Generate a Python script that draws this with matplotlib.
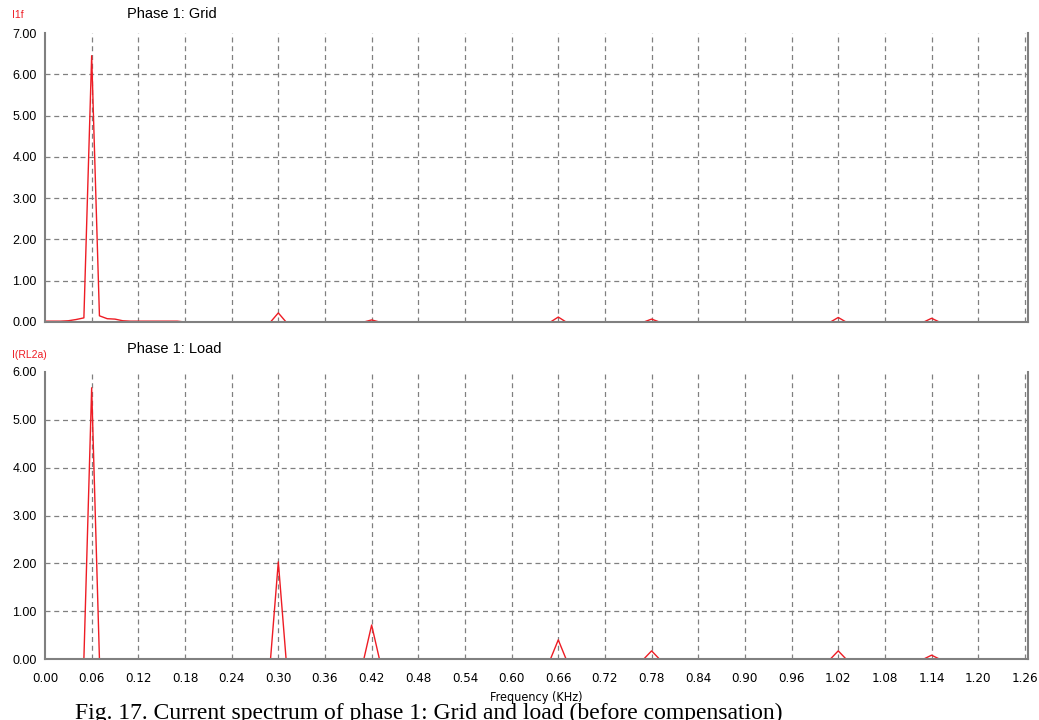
import matplotlib
matplotlib.use("Agg")
import matplotlib.pyplot as plt
from matplotlib import font_manager
import numpy as np

# spectrum points (frequency in kHz, amplitude in A)
grid_freq = [0.00, 0.01, 0.02, 0.03, 0.04, 0.05, 0.06, 0.07, 0.08, 0.09, 0.10,
             0.11, 0.12, 0.13, 0.14, 0.15, 0.16, 0.17, 0.18,
             0.29, 0.30, 0.31, 0.41, 0.42, 0.43, 0.65, 0.66, 0.67,
             0.77, 0.78, 0.79, 1.01, 1.02, 1.03, 1.13, 1.14, 1.15, 1.26]
grid_amp = [0.02, 0.02, 0.02, 0.03, 0.06, 0.10, 6.45, 0.15, 0.08, 0.07, 0.03,
            0.02, 0.02, 0.02, 0.02, 0.02, 0.02, 0.02, 0.00,
            0.00, 0.22, 0.00, 0.00, 0.05, 0.00, 0.00, 0.12, 0.00,
            0.00, 0.07, 0.00, 0.00, 0.11, 0.00, 0.00, 0.09, 0.00, 0.00]

load_freq = [0.00, 0.05, 0.06, 0.07, 0.29, 0.30, 0.31, 0.41, 0.42, 0.43,
             0.65, 0.66, 0.67, 0.77, 0.78, 0.79, 1.01, 1.02, 1.03,
             1.13, 1.14, 1.15, 1.26]
load_amp = [0.00, 0.00, 5.67, 0.00, 0.00, 2.03, 0.00, 0.00, 0.71, 0.00,
            0.00, 0.40, 0.00, 0.00, 0.17, 0.00, 0.00, 0.17, 0.00,
            0.00, 0.08, 0.00, 0.00]

x_ticks = [round(0.06 * i, 2) for i in range(22)]
grid_yticks = [0, 1, 2, 3, 4, 5, 6, 7]
load_yticks = [0, 1, 2, 3, 4, 5, 6]

W, H = 1039, 720
fig = plt.figure(figsize=(W / 100, H / 100), dpi=100)
fig.patch.set_facecolor('white')

# pick a condensed face if one is installed
names = {f.name for f in font_manager.fontManager.ttflist}
if 'Liberation Sans Narrow' in names:
    narrow = dict(family='Liberation Sans Narrow')
else:
    narrow = dict(family='DejaVu Sans', stretch='condensed')
sans = ['Liberation Sans', 'DejaVu Sans']
gcol = '#808080'
red = '#ee1c24'


def make_panel(rect, f, a, yticks):
    ax = fig.add_axes(rect)
    ax.plot(f, a, color=red, linewidth=1.0, zorder=2)
    ax.set_xlim(0, 1.264)
    ax.set_ylim(0, yticks[-1])
    ax.set_xticks(x_ticks)
    ax.set_yticks(yticks)
    ax.set_yticklabels(['%.2f' % v for v in yticks], family=sans, fontsize=9)
    ax.set_xticklabels(['%.2f' % v for v in x_ticks], fontsize=9.5, **narrow)
    ax.tick_params(length=0, pad=6, colors='black')
    ax.tick_params(axis='x', pad=9)
    ax.grid(True, color=gcol, linestyle=(0, (4, 3)), linewidth=0.9)
    ax.yaxis.get_gridlines()[-1].set_visible(False)
    ax.xaxis.get_gridlines()[0].set_visible(False)
    for s in ['left', 'bottom', 'right']:
        ax.spines[s].set_color(gcol)
        ax.spines[s].set_linewidth(1.5)
        ax.spines[s].set_zorder(3)
    ax.spines['top'].set_visible(False)
    return ax


ax1 = make_panel([45 / W, 1 - 322 / H, 983 / W, 289 / H],
                 grid_freq, grid_amp, grid_yticks)
ax2 = make_panel([45 / W, 1 - 659 / H, 983 / W, 287 / H],
                 load_freq, load_amp, load_yticks)
ax1.set_xticklabels([])

fig.text(12 / W, 1 - 15 / H, 'I1f', color=red, fontsize=7.5, family=sans, va='center')
fig.text(127 / W, 1 - 14 / H, 'Phase 1: Grid', fontsize=10.5, family=sans, va='center')
fig.text(12 / W, 1 - 355 / H, 'I(RL2a)', color=red, fontsize=7.5, family=sans, va='center')
fig.text(127 / W, 1 - 349 / H, 'Phase 1: Load', fontsize=10.5, family=sans, va='center')

ax2.set_xlabel('Frequency (KHz)', fontsize=9, labelpad=5, **narrow)

# figure caption, cut by the lower edge as in the source image
fig.text(75 / W, 1 - 703 / H,
         'Fig. 17. Current spectrum of phase 1: Grid and load (before compensation)',
         family=['Liberation Serif', 'DejaVu Serif'], fontsize=17, va='top')

fig.savefig('out.png', dpi=100)
